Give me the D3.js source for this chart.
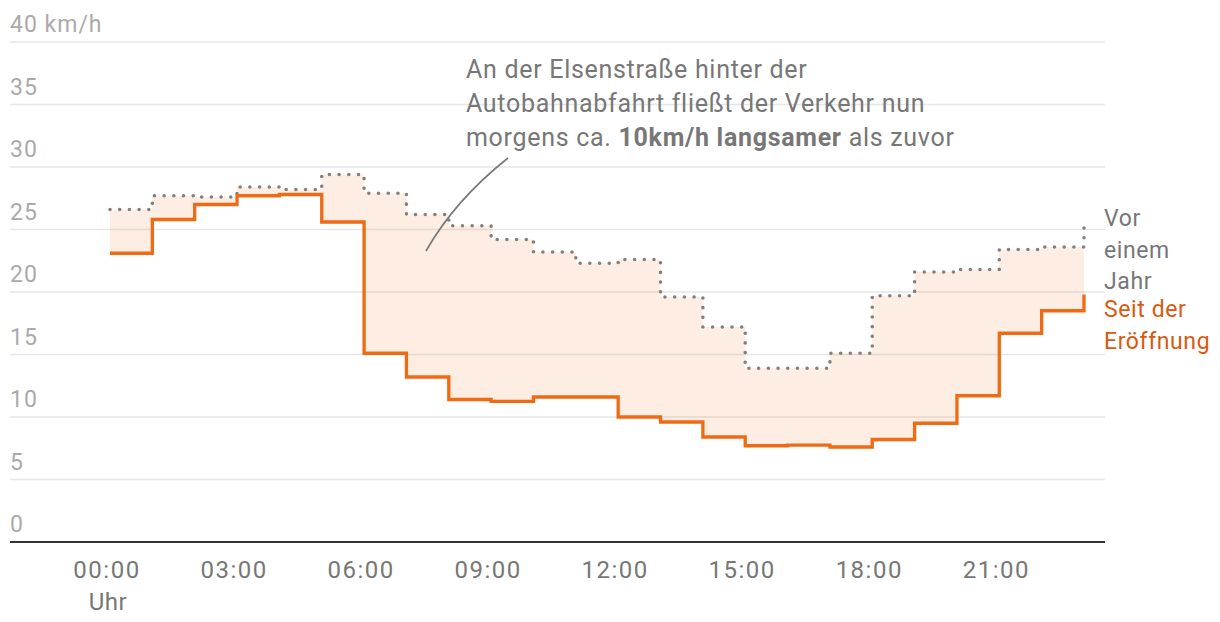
<!DOCTYPE html>
<html>
<head>
<meta charset="utf-8">
<script src="https://cdn.jsdelivr.net/npm/d3@7"></script>
<style>
  body { margin: 0; background: #fff; }
  text { font-family: Roboto, "Liberation Sans", sans-serif; }
</style>
</head>
<body>
<svg width="1220" height="622"></svg>
<script>
const hours = d3.range(0, 24);
const vorJahr = [26.6, 27.7, 27.6, 28.4, 28.2, 29.4, 27.9, 26.2, 25.3, 24.2, 23.2, 22.3,
                 22.6, 19.6, 17.2, 13.9, 13.9, 15.1, 19.7, 21.6, 21.8, 23.4, 23.6, 25.2];
const seitEroeffnung = [23.1, 25.8, 27.0, 27.7, 27.8, 25.6, 15.1, 13.2, 11.4, 11.25, 11.6, 11.6,
                        10.0, 9.6, 8.4, 7.7, 7.75, 7.6, 8.2, 9.5, 11.7, 16.7, 18.5, 19.8];
const yTicks = [0, 5, 10, 15, 20, 25, 30, 35, 40];
const xTicks = [0, 3, 6, 9, 12, 15, 18, 21];

const svg = d3.select("svg");
const x = d3.scaleLinear().domain([0, 23]).range([110, 1084]);
const y = d3.scaleLinear().domain([0, 40]).range([542, 42]);

const orange = "#f06a14";
const grey = "#808080";

const data = hours.map((h, i) => ({h, vor: vorJahr[i], seit: seitEroeffnung[i]}));

// grid
svg.append("g").selectAll("line")
  .data(yTicks.filter(d => d > 0))
  .enter().append("line")
  .attr("x1", 10).attr("x2", 1105)
  .attr("y1", d => y(d)).attr("y2", d => y(d))
  .attr("stroke", "#e6e6e6").attr("stroke-width", 1.5);

svg.append("g").selectAll("text")
  .data(yTicks)
  .enter().append("text")
  .attr("x", 10).attr("y", d => y(d) - 10)
  .attr("fill", "#aaa").attr("font-size", 23).attr("letter-spacing", 1)
  .text(d => d === 40 ? "40 km/h" : d);

// area between the two lines
svg.append("path")
  .datum(data)
  .attr("d", d3.area().curve(d3.curveStepAfter)
    .x(d => x(d.h)).y0(d => y(d.seit)).y1(d => y(d.vor)))
  .attr("fill", orange).attr("fill-opacity", 0.12);

// axis
svg.append("line")
  .attr("x1", 10).attr("x2", 1105).attr("y1", y(0)).attr("y2", y(0))
  .attr("stroke", "#333").attr("stroke-width", 2);

svg.append("g").selectAll("text")
  .data(xTicks)
  .enter().append("text")
  .attr("x", d => x(d) - 3).attr("y", 578)
  .attr("text-anchor", "middle")
  .attr("fill", "#777").attr("font-size", 24).attr("letter-spacing", 1.5)
  .text(d => String(d).padStart(2, "0") + ":00");

svg.append("text")
  .attr("x", x(0) - 2).attr("y", 610)
  .attr("text-anchor", "middle")
  .attr("fill", "#777").attr("font-size", 24).attr("letter-spacing", 0.5)
  .text("Uhr");

// lines
svg.append("path")
  .datum(data)
  .attr("d", d3.line().curve(d3.curveStepAfter).x(d => x(d.h)).y(d => y(d.vor)))
  .attr("fill", "none").attr("stroke", grey).attr("stroke-width", 3.6)
  .attr("stroke-linecap", "round").attr("stroke-dasharray", "0,9.7");

svg.append("path")
  .datum(data)
  .attr("d", d3.line().curve(d3.curveStepAfter).x(d => x(d.h)).y(d => y(d.seit)))
  .attr("fill", "none").attr("stroke", orange).attr("stroke-width", 3.3);

// right labels
const vorLabel = ["Vor", "einem", "Jahr"];
const seitLabel = ["Seit der", "Eröffnung"];
svg.append("g").selectAll("text")
  .data(vorLabel).enter().append("text")
  .attr("x", 1104).attr("y", (d, i) => 226 + i * 31.5)
  .attr("fill", "#777").attr("font-size", 23).attr("letter-spacing", 0.6).text(d => d);
svg.append("g").selectAll("text")
  .data(seitLabel).enter().append("text")
  .attr("x", 1104).attr("y", (d, i) => 317 + i * 31.5)
  .attr("fill", "#d95a10").attr("font-size", 23).attr("letter-spacing", 0.6).text(d => d);

// annotation
const note = svg.append("text").attr("fill", "#777").attr("font-size", 25).attr("letter-spacing", 0.7);
note.append("tspan").attr("x", 466).attr("y", 78).text("An der Elsenstraße hinter der");
note.append("tspan").attr("x", 466).attr("y", 112).text("Autobahnabfahrt fließt der Verkehr nun");
note.append("tspan").attr("x", 466).attr("y", 146).text("morgens ca. ");
note.append("tspan").attr("font-weight", "bold").text("10km/h langsamer");
note.append("tspan").text(" als zuvor");

svg.append("path")
  .attr("d", "M508,158 Q455,200 426,251")
  .attr("fill", "none").attr("stroke", "#777").attr("stroke-width", 1.6);
</script>
</body>
</html>
